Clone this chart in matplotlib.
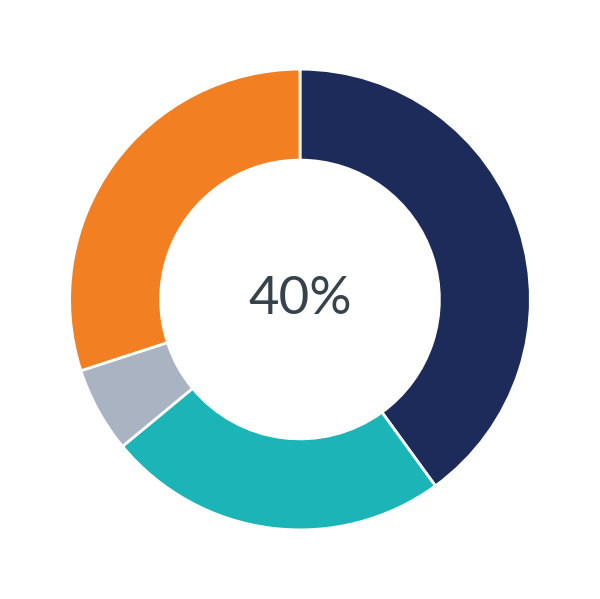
import matplotlib.pyplot as plt

labels = ["Navy", "Teal", "Gray", "Orange"]
values = [40, 24, 6, 30]
colors = ["#1c2b5a", "#1bb4b7", "#a9b3c1", "#f27f22"]
center_label = "40%"

fig = plt.figure(figsize=(6, 5.99), dpi=100)
ax = fig.add_axes([0, 0, 1, 1])

ax.pie(values, colors=colors, startangle=90, counterclock=False,
       radius=1.0, wedgeprops=dict(width=0.395, edgecolor="white", linewidth=2))

ax.text(0, 0, center_label, ha="center", va="center", fontsize=38,
        family="Lato", color="#36434b")

ax.set_xlim(-1.3, 1.3)
ax.set_ylim(-1.3, 1.3)
ax.set_aspect("equal")
ax.axis("off")

plt.savefig("out.png", dpi=100, facecolor="white")
